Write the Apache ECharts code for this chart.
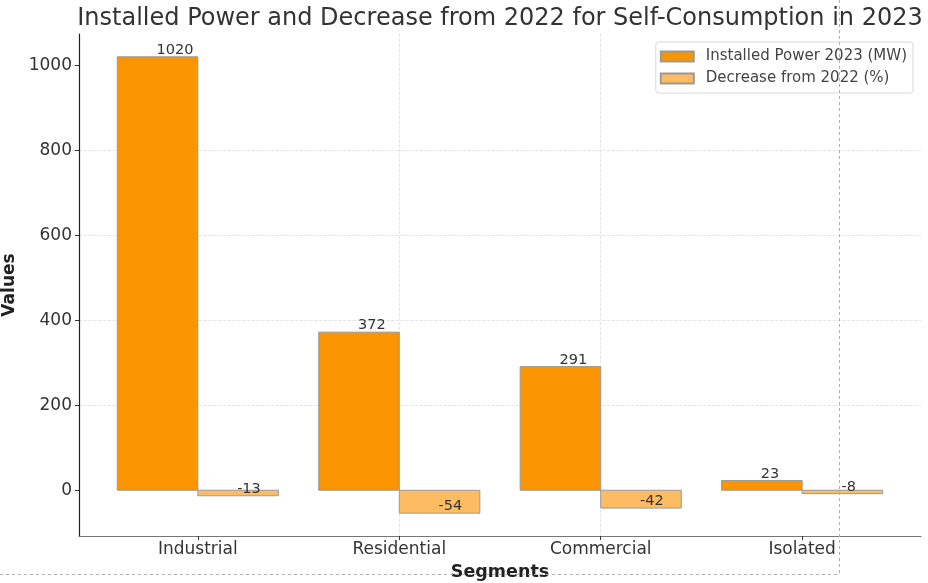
<!DOCTYPE html>
<html>
<head>
<meta charset="utf-8">
<script src="https://cdn.jsdelivr.net/npm/echarts@6/dist/echarts.min.js"></script>
<style>html,body{margin:0;padding:0;background:#fff}#c{width:928px;height:583px}</style>
</head>
<body>
<div id="c"></div>
<script>
const categories = ['Industrial', 'Residential', 'Commercial', 'Isolated'];
const installedPower = [1020, 372, 291, 23];
const decreasePct = [-13, -54, -42, -8];
const yTickValues = [0, 200, 400, 600, 800, 1000];
const xTickValues = [0, 1, 2, 3];
const seriesNames = ['Installed Power 2023 (MW)', 'Decrease from 2022 (%)'];

const FONT = 'DejaVu Sans';
const BAR_W = 0.4;
const colors = ['#FA9400', '#FDBC62'];

function makeRender(side) {
  return function (params, api) {
    const i = api.value(0), v = api.value(1);
    const x0 = side === 0 ? i - BAR_W : i;
    const x1 = x0 + BAR_W;
    const p0 = api.coord([x0, 0]);
    const p1 = api.coord([x1, v]);
    const pc = api.coord([(x0 + x1) / 2, v]);
    return {
      type: 'group',
      children: [
        { type: 'rect',
          shape: { x: p0[0], y: Math.min(p0[1], p1[1]), width: p1[0] - p0[0], height: Math.abs(p1[1] - p0[1]) },
          style: { fill: colors[side], stroke: '#9a9a9a', lineWidth: 1 } },
        { type: 'text', z2: 10,
          style: { text: String(v), x: pc[0] - 1, y: pc[1] + 1, align: 'left', verticalAlign: 'bottom',
                   fill: '#333', font: '14.5px "' + FONT + '"' } }
      ]
    };
  };
}

const chart = echarts.init(document.getElementById('c'), null, { renderer: 'canvas' });
chart.setOption({
  animation: false,
  backgroundColor: '#fff',
  textStyle: { fontFamily: FONT },
  title: {
    text: 'Installed Power and Decrease from 2022 for Self-Consumption in 2023',
    left: 495, top: 2, textAlign: 'center',
    textStyle: { fontFamily: FONT, fontSize: 24, fontWeight: 'normal', color: '#333' }
  },
  legend: {
    orient: 'vertical', right: 15, top: 42,
    itemWidth: 33, itemHeight: 10, itemGap: 7,
    padding: [7, 6, 7, 4],
    borderColor: '#d8d8d8', borderWidth: 1, borderRadius: 3,
    backgroundColor: '#fff',
    icon: 'rect',
    textStyle: { fontFamily: FONT, fontSize: 15, color: '#444', padding: [0, 0, 0, 7] },
    data: seriesNames
  },
  grid: { left: 79, right: 7, top: 34, bottom: 47, outerBoundsMode: 'none' },
  xAxis: {
    type: 'value', min: -0.59, max: 3.59,
    name: 'Segments', nameLocation: 'middle', nameGap: 27,
    nameTextStyle: { fontFamily: FONT, fontSize: 17.5, fontWeight: 'bold', color: '#222' },
    axisLine: { show: true, onZero: false, lineStyle: { color: '#777', width: 1.2 } },
    axisTick: { show: true, customValues: xTickValues, length: 4, lineStyle: { color: '#333' } },
    axisLabel: { customValues: xTickValues, margin: 5, fontFamily: FONT, fontSize: 17, color: '#333',
                 formatter: v => categories[Math.round(v)] },
    splitLine: { show: true, showMinLine: false, showMaxLine: false, lineStyle: { type: 'dashed', color: '#dcdcdc', width: 0.8 } }
  },
  yAxis: {
    type: 'value', min: -107.7, max: 1073.7,
    name: 'Values', nameLocation: 'middle', nameGap: 61,
    nameTextStyle: { fontFamily: FONT, fontSize: 17, fontWeight: 'bold', color: '#222' },
    axisLine: { show: true, onZero: false, lineStyle: { color: '#222', width: 1.2 } },
    axisTick: { show: true, customValues: yTickValues, length: 4, lineStyle: { color: '#333' } },
    axisLabel: { customValues: yTickValues, margin: 7, fontFamily: FONT, fontSize: 17, color: '#333',
                 formatter: v => String(v) },
    splitLine: { show: true, showMinLine: false, showMaxLine: false, lineStyle: { type: 'dashed', color: '#dcdcdc', width: 0.8 } }
  },
  graphic: [
    { type: 'line', silent: true, z: 100, shape: { x1: 839.5, y1: 0, x2: 839.5, y2: 574.5 },
      style: { stroke: '#b0b0b0', lineWidth: 1, lineDash: [3, 3] } },
    { type: 'line', silent: true, z: 100, shape: { x1: 0, y1: 574.5, x2: 839.5, y2: 574.5 },
      style: { stroke: '#b0b0b0', lineWidth: 1, lineDash: [3, 3] } }
  ],
  series: [
    { name: seriesNames[0], type: 'custom', renderItem: makeRender(0),
      itemStyle: { color: colors[0], borderColor: '#9a9a9a', borderWidth: 1 },
      encode: { x: 0, y: 1 },
      data: categories.map((c, i) => [i, installedPower[i]]) },
    { name: seriesNames[1], type: 'custom', renderItem: makeRender(1),
      itemStyle: { color: colors[1], borderColor: '#9a9a9a', borderWidth: 1 },
      encode: { x: 0, y: 1 },
      data: categories.map((c, i) => [i, decreasePct[i]]) }
  ]
});
</script>
</body>
</html>
